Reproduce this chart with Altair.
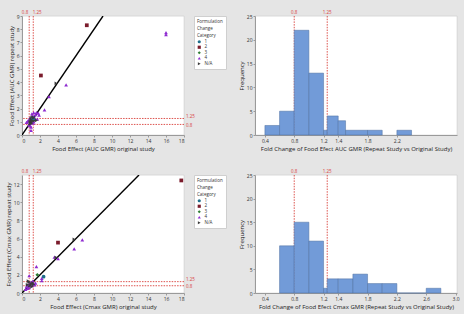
import altair as alt
import pandas as pd

FONT = "Open Sans"

# ---------------- data ----------------
cat_domain = ["1", "2", "3", "4", "N/A"]
cat_colors = ["#1f6f8b", "#7b1c2c", "#2e7d32", "#8e2bd0", "#3a3a3a"]
cat_shapes = ["circle", "square", "diamond", "triangle-up", "triangle-right"]

# AUC scatter (original study, repeat study, category)
auc_orig = [7.2, 2.1, 16.0, 16.0, 4.9, 3.0, 2.5, 1.8, 1.6, 1.3, 1.1, 1.5, 0.6, 0.5, 0.8, 0.9, 1.0,
            1.2, 0.7, 1.4, 1.9, 1.2, 0.9, 1.3, 1.0, 1.7,
            3.8, 1.0, 1.1, 1.2, 1.0, 1.1, 0.9, 1.3, 1.2, 1.05, 0.95, 1.4, 1.6, 1.25, 1.15, 1.3]
auc_rep = [8.3, 4.5, 7.6, 7.75, 3.8, 2.9, 1.9, 1.65, 1.7, 1.7, 1.6, 1.55, 1.0, 0.95, 0.75, 0.7, 0.6,
           0.9, 1.1, 1.3, 1.5, 1.45, 1.3, 1.0, 0.35, 1.2,
           3.9, 1.2, 1.3, 1.1, 1.0, 0.9, 1.0, 1.2, 1.35, 1.15, 0.85, 1.1, 1.1, 1.25, 1.05, 1.3]
auc_cat = ["2", "2", "4", "4", "4", "4", "4", "4", "4", "4", "4", "4", "4", "4", "4", "4", "4",
           "4", "4", "4", "4", "4", "4", "4", "4", "4",
           "N/A", "N/A", "N/A", "N/A", "N/A", "N/A", "N/A", "N/A", "N/A", "N/A", "N/A", "N/A", "N/A", "1", "N/A", "N/A"]

# Cmax scatter
cmax_orig = [17.7, 4.0, 6.7, 5.8, 3.6, 4.0, 1.6, 0.8, 2.2, 2.2, 0.5, 0.7, 0.9, 1.1, 1.3, 0.6, 1.0, 1.4, 0.4,
             0.8, 1.2, 1.5,
             5.8, 3.8, 0.7, 1.0, 0.9, 1.2, 0.6, 1.1, 0.8, 1.3,
             1.7, 2.4]
cmax_rep = [12.4, 5.55, 5.85, 4.85, 3.95, 3.8, 2.9, 1.9, 1.6, 1.35, 0.7, 0.9, 1.1, 0.8, 1.0, 0.5, 1.2, 0.9, 0.4,
            0.6, 1.3, 1.1,
            5.9, 3.9, 1.3, 1.0, 0.8, 1.1, 0.9, 0.7, 1.2, 0.95,
            2.0, 1.8]
cmax_cat = ["2", "2", "4", "4", "4", "4", "4", "4", "4", "4", "4", "4", "4", "4", "4", "4", "4", "4", "4",
            "4", "4", "4",
            "N/A", "N/A", "N/A", "N/A", "N/A", "N/A", "N/A", "N/A", "N/A", "N/A",
            "3", "1"]

# histograms: bin lower edge, upper edge, frequency
auc_lo = [0.4, 0.6, 0.8, 1.0, 1.2, 1.25, 1.4, 1.5, 1.8, 2.2]
auc_hi = [0.6, 0.8, 1.0, 1.2, 1.25, 1.4, 1.5, 1.8, 2.0, 2.4]
auc_n = [2, 5, 22, 13, 1, 4, 3, 1, 1, 1]

cmax_lo = [0.6, 0.8, 1.0, 1.2, 1.25, 1.4, 1.6, 1.8, 2.0, 2.2, 2.6]
cmax_hi = [0.8, 1.0, 1.2, 1.25, 1.4, 1.6, 1.8, 2.0, 2.2, 2.6, 2.8]
cmax_n = [10, 15, 11, 1, 3, 3, 4, 2, 2, 0, 1]

ref_vals = [0.8, 1.25]
ref_labels = ["0.8", "1.25"]

scatter_x_ticks = [0, 2, 4, 6, 8, 10, 12, 14, 16, 18]
auc_y_ticks = [0, 1, 2, 3, 4, 5, 6, 7, 8, 9]
cmax_y_ticks = [0, 2, 4, 6, 8, 10, 12]
hist_y_ticks = [0, 5, 10, 15, 20, 25]
auc_hist_ticks = [0.4, 0.8, 1.2, 1.4, 1.8, 2.2]
cmax_hist_ticks = [0.4, 0.8, 1.2, 1.4, 1.8, 2.2, 2.6, 3.0]

RED = "#d9403a"
SW = 162
HW = 202


def axis(ticks, fmt=None):
    kw = dict(values=ticks, grid=False, tickSize=2, labelPadding=1, titlePadding=2,
              domainColor="#9a9a9a", tickColor="#9a9a9a", labelColor="#333333",
              titleColor="#222222", labelFontSize=5, titleFontSize=6, titleFontWeight="normal",
              labelFont=FONT, titleFont=FONT)
    if fmt:
        kw["format"] = fmt
    return alt.Axis(**kw)


def scatter(xs, ys, cs, xtitle, ytitle, ymax, yticks, height):
    df = pd.DataFrame({"x": xs, "y": ys, "cat": cs})
    xsc = alt.Scale(domain=[0, 18], nice=False, zero=False)
    ysc = alt.Scale(domain=[0, ymax], nice=False, zero=False)
    X = lambda: alt.X("x:Q", scale=xsc, axis=axis(scatter_x_ticks), title=xtitle)
    Y = lambda: alt.Y("y:Q", scale=ysc, axis=axis(yticks), title=ytitle)

    refs = pd.DataFrame({"x": ref_vals, "y": ref_vals, "lab": ref_labels})
    vrule = alt.Chart(refs).mark_rule(color=RED, strokeDash=[1.5, 1.2], strokeWidth=0.9).encode(x=X())
    hrule = alt.Chart(refs).mark_rule(color=RED, strokeDash=[1.5, 1.2], strokeWidth=0.9).encode(y=Y())
    diag = pd.DataFrame({"x": [0, ymax], "y": [0, ymax]})
    line = alt.Chart(diag).mark_line(color="black", strokeWidth=1.4, clip=True).encode(x=X(), y=Y())
    leg = alt.Legend(title=["Formulation", "Change", "Category"], fillColor="white",
                     strokeColor="#cfcfcf", padding=3, labelFontSize=4.5, titleFontSize=4.5,
                     titleFontWeight="normal", labelFont=FONT, titleFont=FONT, symbolSize=10,
                     rowPadding=0.5, offset=10, titlePadding=2, symbolStrokeWidth=0,
                     labelColor="#333333", titleColor="#333333", titleLineHeight=7,
                     labelOffset=3)
    pts = alt.Chart(df).mark_point(filled=True, size=14, opacity=1).encode(
        x=X(), y=Y(),
        color=alt.Color("cat:N", scale=alt.Scale(domain=cat_domain, range=cat_colors), legend=leg),
        shape=alt.Shape("cat:N", scale=alt.Scale(domain=cat_domain, range=cat_shapes), legend=leg),
    )
    t_top_a = alt.Chart(refs.iloc[[0]]).mark_text(color=RED, fontSize=4.5, font=FONT, align="right",
                                                  dx=-1, baseline="bottom").encode(
        x=X(), y=alt.value(-1), text="lab:N")
    t_top_b = alt.Chart(refs.iloc[[1]]).mark_text(color=RED, fontSize=4.5, font=FONT, align="left",
                                                  dx=-0.5, baseline="bottom").encode(
        x=X(), y=alt.value(-1), text="lab:N")
    t_right_a = alt.Chart(refs.iloc[[0]]).mark_text(color=RED, fontSize=4.5, font=FONT, align="left",
                                                    dx=2, dy=1.2, baseline="middle").encode(
        y=Y(), x=alt.value(SW), text="lab:N")
    t_right_b = alt.Chart(refs.iloc[[1]]).mark_text(color=RED, fontSize=4.5, font=FONT, align="left",
                                                    dx=2, dy=-1.2, baseline="middle").encode(
        y=Y(), x=alt.value(SW), text="lab:N")
    return alt.layer(vrule, hrule, line, pts, t_top_a, t_top_b, t_right_a, t_right_b).properties(
        width=SW, height=height)


def hist(lo, hi, n, ticks, xtitle, height):
    df = pd.DataFrame({"lo": lo, "hi": hi, "n": n})
    xsc = alt.Scale(domain=[0.265, 3.02], nice=False, zero=False)
    ysc = alt.Scale(domain=[0, 25], nice=False)
    refs = pd.DataFrame({"lo": ref_vals, "lab": ref_labels})
    X = lambda: alt.X("lo:Q", scale=xsc, axis=axis(ticks, ".1f"), title=xtitle)
    rule = alt.Chart(refs).mark_rule(color=RED, strokeDash=[1.5, 1.2], strokeWidth=0.9).encode(x=X())
    txt = alt.Chart(refs).mark_text(color=RED, fontSize=4.5, font=FONT, baseline="bottom").encode(
        x=X(), y=alt.value(-1), text="lab:N")
    bars = alt.Chart(df).mark_rect(color="#729bd8", stroke="#4d6f9f", strokeWidth=0.5).encode(
        x=X(), x2="hi:Q",
        y=alt.Y("n:Q", scale=ysc, axis=axis(hist_y_ticks), title="Frequency"),
        y2=alt.value(height),
    )
    return alt.layer(rule, bars, txt).properties(width=HW, height=height)


s1 = scatter(auc_orig, auc_rep, auc_cat, "Food Effect (AUC GMR) original study",
             "Food Effect (AUC GMR) repeat study", 9, auc_y_ticks, 119)
s2 = scatter(cmax_orig, cmax_rep, cmax_cat, "Food Effect (Cmax GMR) original study",
             "Food Effect (Cmax GMR) repeat study", 13, cmax_y_ticks, 118)
h1 = hist(auc_lo, auc_hi, auc_n, auc_hist_ticks,
          "Fold Change of Food Efect AUC GMR (Repeat Study vs Original Study)", 119)
h2 = hist(cmax_lo, cmax_hi, cmax_n, cmax_hist_ticks,
          "Fold Change of Food Efect Cmax GMR (Repeat Study vs Original Study)", 118)

row1 = alt.hconcat(s1, h1, spacing=10).resolve_scale(x="independent", y="independent",
                                                      color="independent", shape="independent")
row2 = alt.hconcat(s2, h2, spacing=10).resolve_scale(x="independent", y="independent",
                                                      color="independent", shape="independent")

chart = alt.vconcat(row1, row2, spacing=16).properties(
    background="#e5e5e5",
    padding={"left": 4, "top": 9, "right": 4, "bottom": 4},
).configure_view(fill="white", stroke="#c8c8c8", strokeWidth=0.6)

chart.save("out.html", embed_options={"renderer": "svg", "actions": False})
